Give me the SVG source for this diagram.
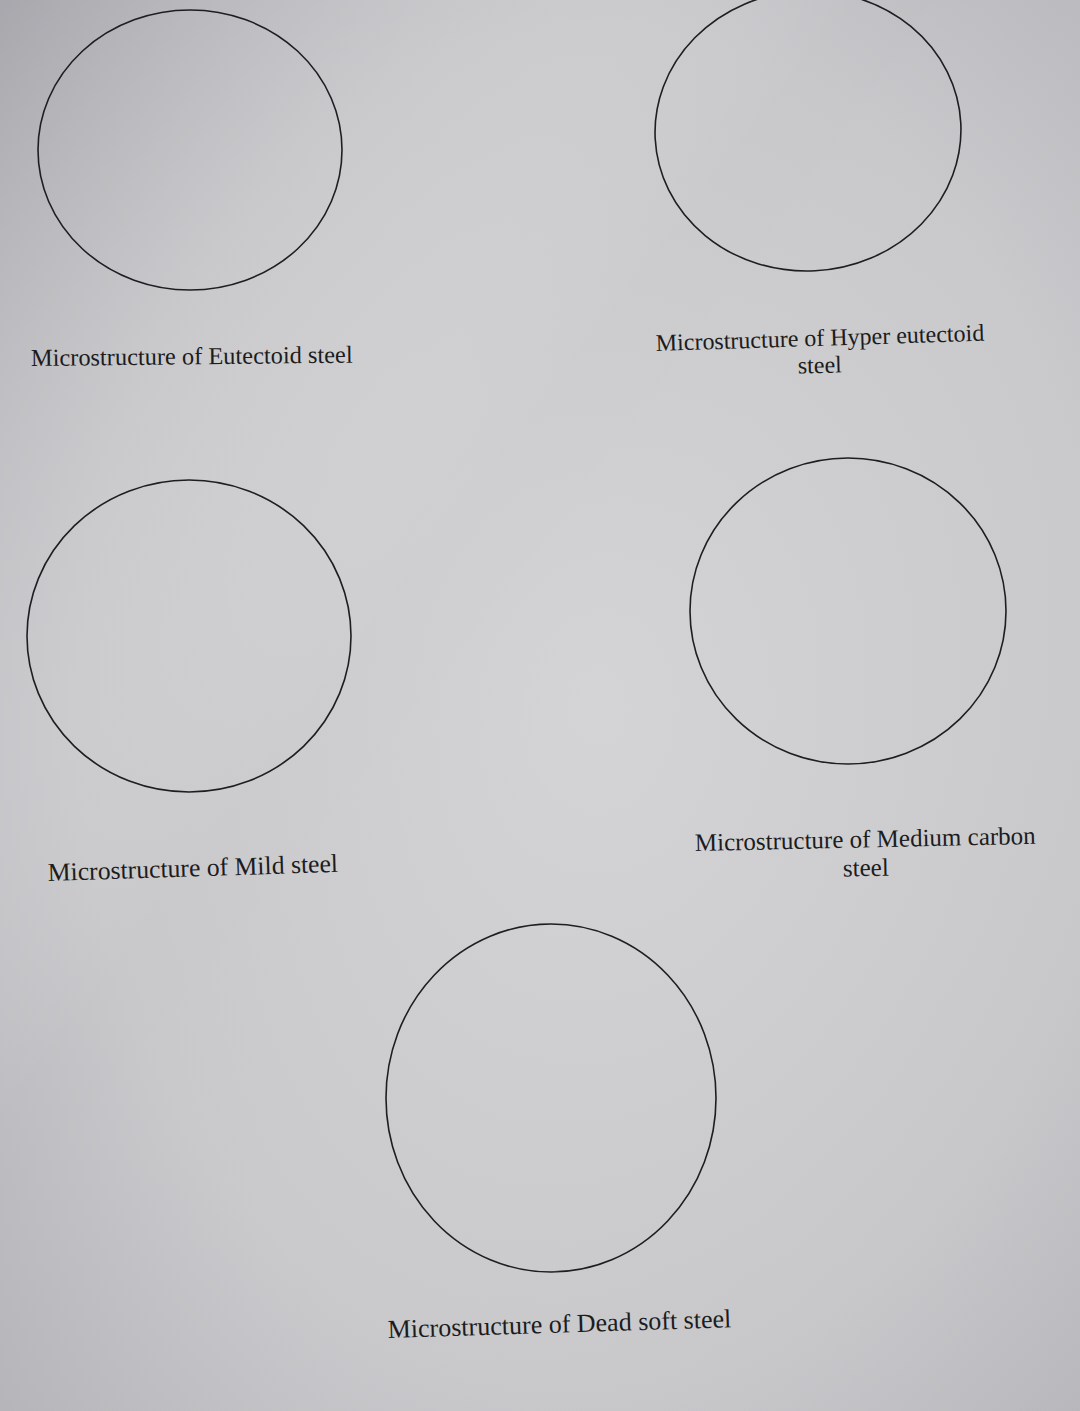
<svg xmlns="http://www.w3.org/2000/svg" width="1080" height="1411" viewBox="0 0 1080 1411">
<defs>
<radialGradient id="bg" cx="0.55" cy="0.5" r="0.8">
<stop offset="0" stop-color="#d3d3d6"/>
<stop offset="0.6" stop-color="#c8c8cb"/>
<stop offset="1" stop-color="#b0afb4"/>
</radialGradient>
<linearGradient id="shade" x1="0" y1="0" x2="1" y2="1">
<stop offset="0" stop-color="#9c9ba1" stop-opacity="0.5"/>
<stop offset="0.4" stop-color="#ffffff" stop-opacity="0"/>
<stop offset="1" stop-color="#b0b0b4" stop-opacity="0.15"/>
</linearGradient>
</defs>
<style>
.c{fill:none;stroke:#1e1e22;stroke-width:1.6}
.t{font-family:"Liberation Serif","Times New Roman",serif;font-size:24px;fill:#1c1c20}
</style>
<rect width="1080" height="1411" fill="url(#bg)"/>
<rect width="1080" height="1411" fill="url(#shade)"/>
<g id="eutectoid">
<ellipse class="c" cx="190" cy="150" rx="152" ry="140"/>
<text class="t" x="31" y="366" style="font-size:24.4px" transform="rotate(-0.6 31 366)">Microstructure of Eutectoid steel</text>
</g>
<g id="hyper-eutectoid">
<ellipse class="c" cx="808" cy="131" rx="153" ry="140" transform="rotate(-3 808 131)"/>
<text class="t" x="656" y="351" style="font-size:24px" transform="rotate(-1.8 656 351)">Microstructure of Hyper eutectoid</text>
<text class="t" x="820" y="373" text-anchor="middle" transform="rotate(-1.5 820 373)">steel</text>
</g>
<g id="mild">
<ellipse class="c" cx="189" cy="636" rx="162" ry="156"/>
<text class="t" x="48" y="881" style="font-size:25.7px" transform="rotate(-1.8 48 881)">Microstructure of Mild steel</text>
</g>
<g id="medium-carbon">
<ellipse class="c" cx="848" cy="611" rx="158" ry="153"/>
<text class="t" x="695" y="851" style="font-size:25px" transform="rotate(-1.2 695 851)">Microstructure of Medium carbon</text>
<text class="t" x="866" y="876" style="font-size:25px" text-anchor="middle" transform="rotate(-1 866 876)">steel</text>
</g>
<g id="dead-soft">
<ellipse class="c" cx="551" cy="1098" rx="165" ry="174"/>
<text class="t" x="388" y="1338" style="font-size:26px" transform="rotate(-1.8 388 1338)">Microstructure of Dead soft steel</text>
</g>
</svg>
